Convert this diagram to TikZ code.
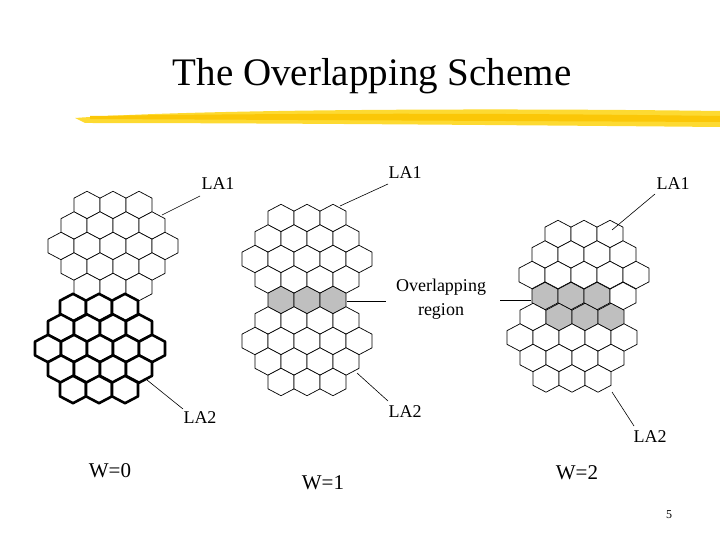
\documentclass[tikz,border=0pt]{standalone}
\usepackage{fontspec}
\setmainfont{Liberation Serif}
\tikzset{
  hexthin/.style={draw=black,line width=0.7pt,fill=white},
  hexgrey/.style={draw=black,line width=0.7pt,fill=black!25},
  hexbold/.style={draw=black,line width=2.6pt,line join=round,fill=white},
  lbl/.style={font=\fontsize{18}{20}\selectfont,inner sep=0pt},
  wl/.style={font=\fontsize{21}{24}\selectfont,inner sep=0pt},
  lead/.style={draw=black,line width=0.6pt}
}
\newcommand\hx[3]{\draw[#3] (#1,#2) ++(0,-13.7) -- ++(13,6.85) -- ++(0,13.7) -- ++(-13,6.85) -- ++(-13,-6.85) -- ++(0,-13.7) -- cycle;}
\newcommand\hrow[4]{\foreach \i in {1,...,#1}{\hx{#2+26*\i-26}{#3}{#4}}}
\begin{document}
\begin{tikzpicture}[x=1pt,y=-1pt]
\useasboundingbox (0,0) rectangle (720,540);
% title and stroke
\node[font=\fontsize{39}{44}\selectfont,inner sep=0pt] (title) at (372,76) {The Overlapping Scheme};
\fill[yellow!70!orange!90,opacity=0.9] (75,118) .. controls (200,109) and (500,108) .. (720,111) -- (720,127) .. controls (500,125) and (250,123) .. (85,123) -- cycle;
\fill[yellow!60!orange] (90,116) .. controls (300,113) and (500,113) .. (720,116) -- (720,122) .. controls (500,121) and (300,120) .. (90,119) -- cycle;
% left cluster
\hrow{3}{87}{205}{hexthin}
\hrow{4}{74}{225.5}{hexthin}
\hrow{5}{61}{246}{hexthin}
\hrow{4}{74}{266.5}{hexthin}
\hrow{3}{87}{287}{hexthin}
\hrow{3}{73}{307.5}{hexbold}
\hrow{4}{61}{328}{hexbold}
\hrow{5}{48}{348.5}{hexbold}
\hrow{4}{61}{369}{hexbold}
\hrow{3}{73}{389.5}{hexbold}
% middle cluster
\hrow{3}{281}{218}{hexthin}
\hrow{4}{268}{238.5}{hexthin}
\hrow{5}{255}{259}{hexthin}
\hrow{4}{268}{279.5}{hexthin}
\hrow{3}{281}{300}{hexgrey}
\hrow{4}{268}{320.5}{hexthin}
\hrow{5}{255}{341}{hexthin}
\hrow{4}{268}{361.5}{hexthin}
\hrow{3}{281}{382}{hexthin}
% right cluster
\hrow{3}{558}{234}{hexthin}
\hrow{4}{545}{254.5}{hexthin}
\hrow{5}{532}{275}{hexthin}
\hrow{3}{545}{296}{hexgrey}
\hx{623}{296}{hexthin}
\hx{533}{317}{hexthin}
\hrow{3}{559}{317}{hexgrey}
\hrow{5}{520}{337.5}{hexthin}
\hrow{4}{533}{358}{hexthin}
\hrow{3}{546}{378.5}{hexthin}
% labels
\node[lbl] (la1a) at (218,184) {LA1};
\node[lbl] (la2a) at (200,418) {LA2};
\node[lbl] (la1b) at (405,173) {LA1};
\node[lbl] (la2b) at (405,412) {LA2};
\node[lbl] (la1c) at (673,184) {LA1};
\node[lbl] (la2c) at (650,437) {LA2};
\node[lbl,align=center,font=\fontsize{18}{24}\selectfont] (ovl) at (441,299) {Overlapping\\region};
\coordinate (e1) at (162,215);
\coordinate (e2) at (147,380);
\coordinate (e3) at (340,206);
\coordinate (e4) at (357,373);
\coordinate (e5) at (612,230);
\coordinate (e6) at (612,392);
\coordinate (e7) at (347,301);
\coordinate (e8) at (531,300);
\draw[lead] (200,196) -- (e1);
\draw[lead] (183,409) -- (e2);
\draw[lead] (388,184) -- (e3);
\draw[lead] (388,401) -- (e4);
\draw[lead] (655,194) -- (e5);
\draw[lead] (634,426) -- (e6);
\draw[lead] (e7) -- (386,301);
\draw[lead] (500,300) -- (e8);
\node[wl] (w0) at (110,471) {W=0};
\node[wl] (w1) at (323,483) {W=1};
\node[wl] (w2) at (577,473) {W=2};
\node[lbl,font=\fontsize{12}{14}\selectfont] (pg) at (669,515) {5};
\end{tikzpicture}
\end{document}
